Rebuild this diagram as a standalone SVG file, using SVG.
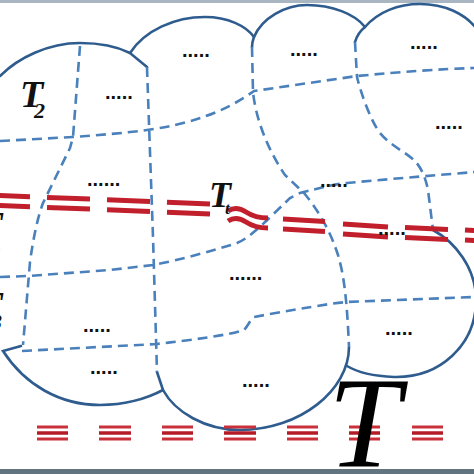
<svg xmlns="http://www.w3.org/2000/svg" width="474" height="474" viewBox="0 0 474 474">
<style>
.o{fill:none;stroke:#2f5c8e;stroke-width:2.6;stroke-linecap:round}
.d{fill:none;stroke:#4a80bb;stroke-width:2.6;stroke-dasharray:10 6}
.r{stroke:#c21f2c;stroke-width:5;fill:none}
.rb{stroke:#c9303a;stroke-width:3;fill:none}
.rm{stroke:#b51b27;stroke-width:3.5;fill:none}
.dots{font-family:"Liberation Sans",Arial,sans-serif;font-weight:bold;font-size:20px;fill:#111}
.lb{font-family:"Liberation Serif","Times New Roman",serif;font-style:italic;font-weight:bold;fill:#111}
</style>
<rect width="474" height="474" fill="#fff"/>
<rect x="0" y="0" width="474" height="3" fill="#a9b6c2"/>
<rect x="0" y="469" width="474" height="5" fill="#62747f"/>
<g id="outline">
<path class="o" d="M0,76 C18,58 48,43 80,43 C100,43 116,46 130,53 L147,67"/>
<path class="o" d="M130,53 C145,30 175,17 205,17 C228,17 246,26 254,37"/>
<path class="o" d="M252,47 C252,42 253,40 254,37 C262,18 285,5 307,5 C332,5 355,14 365,27"/>
<path class="o" d="M355,42 C357,35 360,31 365,27 C378,12 398,4 420,4 C445,4 465,14 476,28"/>
<path class="o" d="M433,230 C455,242 476,268 476,300 C476,345 440,378 394,377 C372,376 357,372 347,366"/>
<path class="o" d="M349,347 C349,390 300,430 240,430 C205,430 175,412 163,390 L157,372"/>
<path class="o" d="M21,346 L3,351 C25,385 60,405 100,405 C125,405 148,398 163,390"/>
</g>
<g id="connectors">
<path class="d" d="M0,141 L73,137 C100,135 125,133 147,130 C190,124 225,112 254,91 L357,76 C400,72 440,69 474,68"/>
<path class="d" d="M0,277 L28,276 L110,270 L153,265 C180,260 215,250 237,243 C250,238 265,222 290,198 L300,193 C320,188 335,184 347,183 C400,178 440,175 474,172"/>
<path class="d" d="M22,351 L157,344 C190,340 225,336 244,330 C248,326 250,320 254,317 L270,314 C300,309 325,304 347,302 L474,297"/>
<path class="d" d="M80,46 L73,137 L70,148 L43,203 Q35,225 30,262 L23,345"/>
<path class="d" d="M147,67 L153,237 L157,372"/>
<path class="d" d="M252,47 L253,92 C256,120 268,150 285,175 L304,193 C318,210 330,230 338,255 C344,275 347,300 349,347"/>
<path class="d" d="M355,42 L357,77 C360,90 370,120 380,133 C390,145 405,152 414,160 C420,166 425,175 428,190 L433,230"/>
</g>
<g id="red-upper">
<path class="r" d="M-5,195.3 L30,196.7 M-5,205.3 L30,206.7"/>
<path class="r" d="M47,197.4 L90,199.1 M47,207.4 L90,209.1"/>
<path class="r" d="M107,199.8 L150,201.5 M107,209.8 L150,211.5"/>
<path class="r" d="M167,202.2 L210,203.9 M167,212.2 L210,213.9"/>
<path class="r" d="M228,211 C234,207 240,208 246,212 S258,218 268,218 M228,221 C234,217 240,218 246,222 S258,228 268,228"/>
<path class="r" d="M283,219 L325,221.5 M283,229 L325,231.5"/>
<path class="r" d="M343,224 L388,227 M343,234 L388,237"/>
<path class="r" d="M405,227.5 L448,229.5 M405,237.5 L448,239.5"/>
<path class="r" d="M465,230 L480,231 M465,240 L480,241"/>
</g>
<g id="red-lower">
<path class="rb" d="M37,427 H68 M99,427 H131 M162,427 H193 M224,427 H256 M287,427 H318 M349,427 H380 M412,427 H443"/>
<path class="rm" d="M37,433 H68 M99,433 H131 M162,433 H193 M224,433 H256 M287,433 H318 M349,433 H380 M412,433 H443"/>
<path class="rb" d="M37,439 H68 M99,439 H131 M162,439 H193 M224,439 H256 M287,439 H318 M349,439 H380 M412,439 H443"/>
</g>
<g id="dots" class="dots">
<text x="105" y="99">.....</text>
<text x="182" y="57">.....</text>
<text x="290" y="56">.....</text>
<text x="410" y="49">.....</text>
<text x="435" y="129">.....</text>
<text x="87" y="186">......</text>
<text x="320" y="187">.....</text>
<text x="378" y="235">.....</text>
<text x="83" y="332">.....</text>
<text x="90" y="374">.....</text>
<text x="229" y="280">......</text>
<text x="385" y="335">.....</text>
<text x="242" y="387">.....</text>
</g>
<g id="labels">
<text class="lb" x="20" y="107" font-size="38">T</text>
<text class="lb" x="34" y="118" font-size="22">2</text>
<text class="lb" x="209" y="207" font-size="36">T</text>
<text class="lb" x="225" y="214" font-size="17">t</text>
<text class="lb" x="-21" y="238" font-size="38">T</text>
<text class="lb" x="-9" y="250" font-size="22">1</text>
<text class="lb" x="-21" y="318" font-size="38">T</text>
<text class="lb" x="-9" y="329" font-size="22">3</text>
<text x="328" y="466" font-family="Liberation Serif,'Times New Roman',serif" font-style="italic" font-size="130" fill="#000">T</text>
</g>
</svg>
